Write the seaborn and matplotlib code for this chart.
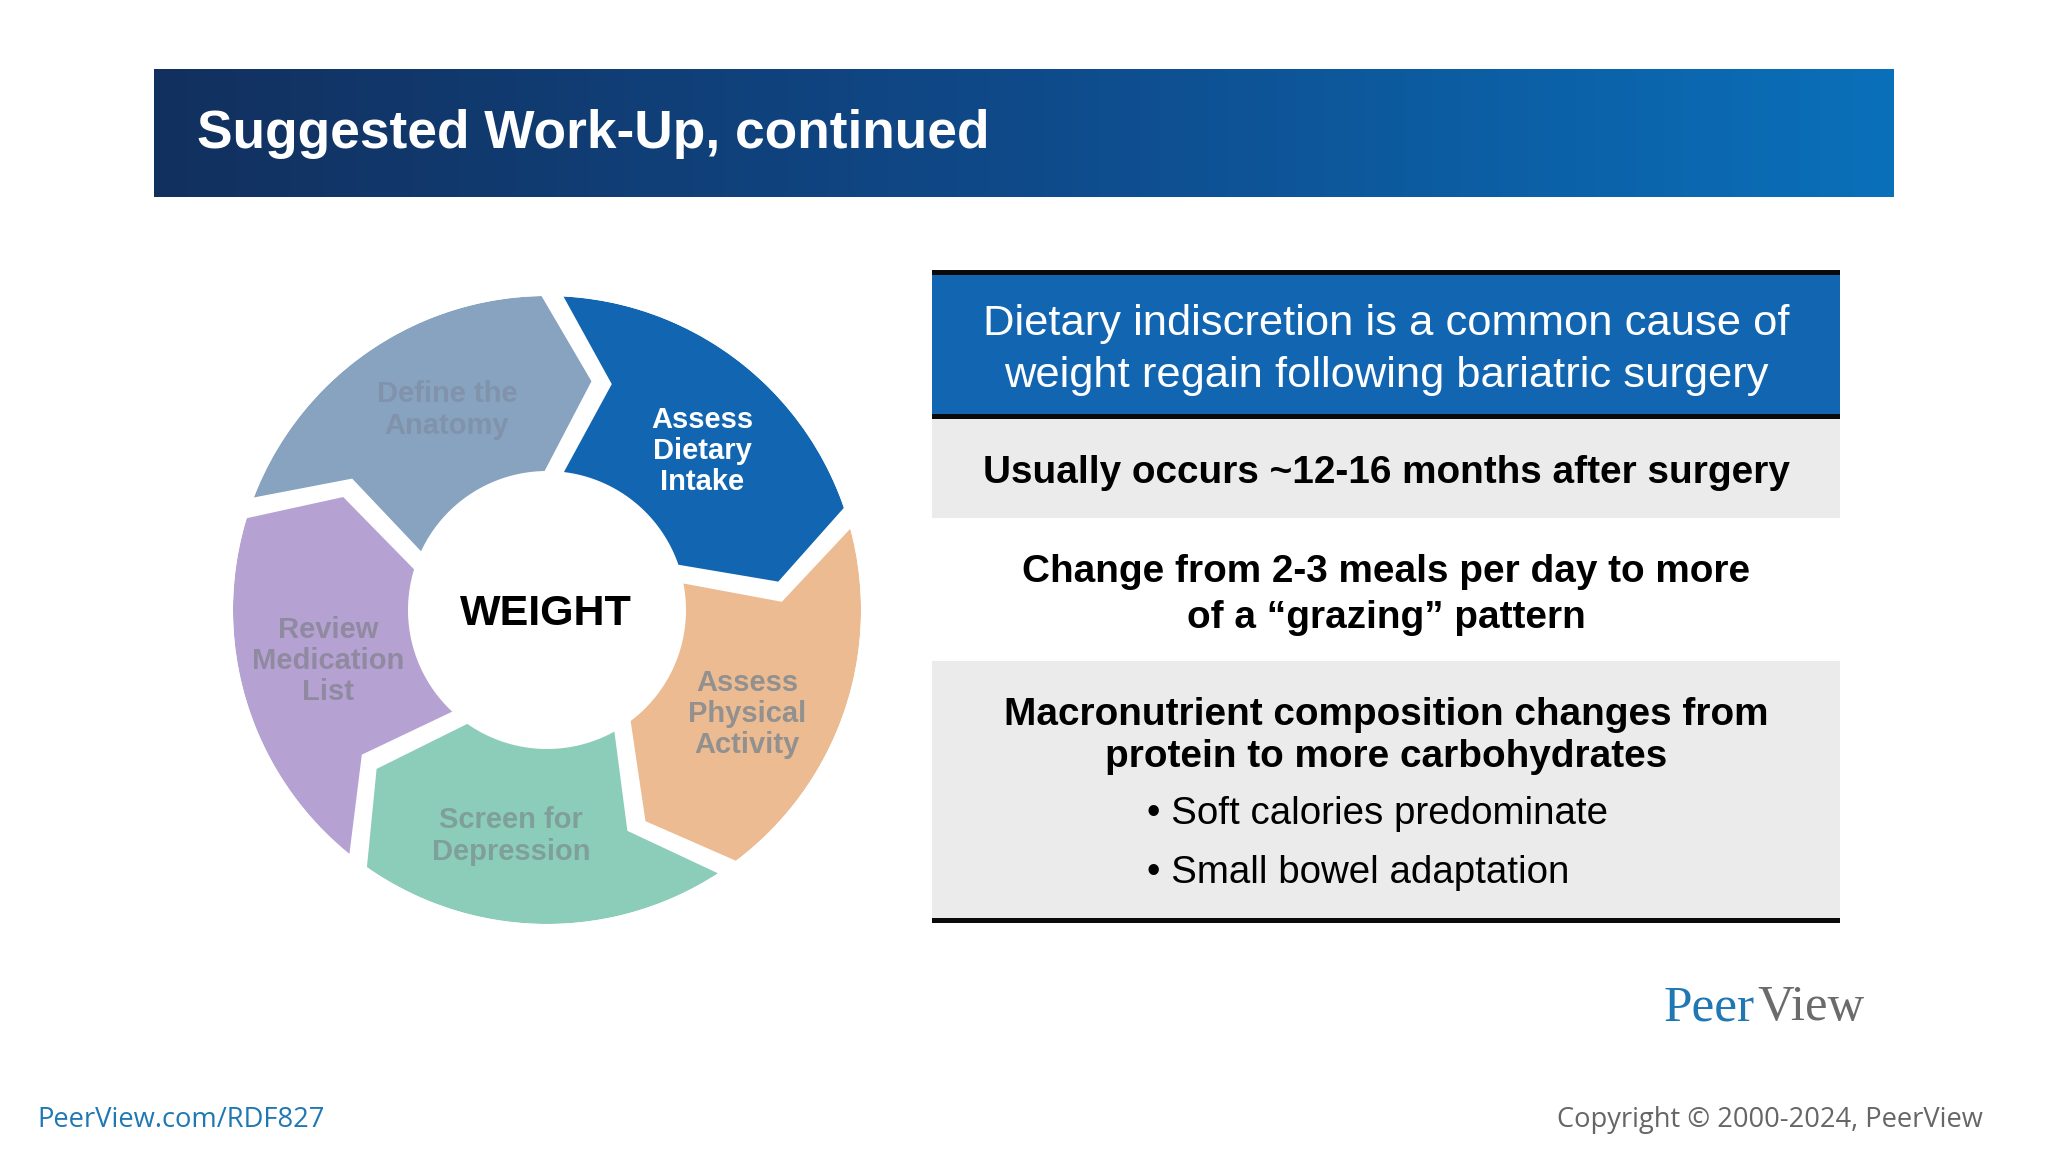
import numpy as np
import matplotlib
matplotlib.use("Agg")
import matplotlib.pyplot as plt
from matplotlib.patches import Rectangle
import seaborn as sns

# Slide text
title = "Suggested Work-Up, continued"
center_label = "WEIGHT"
wheel_labels = ["Assess\nDietary\nIntake", "Assess\nPhysical\nActivity", "Screen for\nDepression",
                "Review\nMedication\nList", "Define the\nAnatomy"]
panel_head = ["Dietary indiscretion is a common cause of", "weight regain following bariatric surgery"]
panel_bold = ["Usually occurs ~12-16 months after surgery",
              "Change from 2-3 meals per day to more", "of a \u201cgrazing\u201d pattern",
              "Macronutrient composition changes from", "protein to more carbohydrates"]
panel_bullets = ["\u2022 Soft calories predominate", "\u2022 Small bowel adaptation"]
footer_left = "PeerView.com/RDF827"
footer_right = "Copyright \u00a9 2000-2024, PeerView"

# Wheel: one segment outline in degrees clockwise from the top, radius in pixels
segment_starts = [0, 72, 144, 216, 288]
outer_arc = [3, 71]
inner_arc = [71, 7]
outer_radius = 314
inner_radius = 139
tip_point = [83, 233]
notch_point = [16, 235]

wheel_colors = ["#1265b0", "#ecbb92", "#8ccdb9", "#b5a2d3", "#87a3c0"]
wheel_text_colors = ["#ffffff", "#92918f", "#7fa09a", "#8f8aa0", "#8093ab"]
wheel_text_x = [702, 747, 511, 328, 447]
wheel_text_y = [451, 714, 836, 661, 410]

sns.set_theme(style="white")
plt.rcParams["font.family"] = ["Liberation Sans", "DejaVu Sans"]

W, H = 2048, 1152
fig = plt.figure(figsize=(W / 100, H / 100), dpi=100, facecolor="white")

#########################################################
# Wheel on a polar axes
#########################################################
cx, cy = 547, 610
wheel_ax = fig.add_axes([(cx - outer_radius) / W, 1 - (cy + outer_radius) / H,
                         2 * outer_radius / W, 2 * outer_radius / H],
                        projection="polar", zorder=1)
wheel_ax.set_theta_zero_location("N")
wheel_ax.set_theta_direction(-1)
wheel_ax.set_rlim(0, outer_radius)
wheel_ax.axis("off")

for start, color in zip(segment_starts, wheel_colors):
    out_a = np.linspace(outer_arc[0], outer_arc[1], 60)
    in_a = np.linspace(inner_arc[0], inner_arc[1], 40)
    angles = np.r_[out_a, tip_point[0], in_a, notch_point[0]] + start
    radii = np.r_[np.full(60, outer_radius), tip_point[1], np.full(40, inner_radius), notch_point[1]]
    wheel_ax.fill(np.deg2rad(angles), radii, color=color, lw=0)

#########################################################
# Everything else in pixel coordinates
#########################################################
ax = fig.add_axes([0, 0, 1, 1], zorder=2)
ax.patch.set_alpha(0)

# header bar
header_cmap = sns.blend_palette(["#12305e", "#0f4a8a", "#0a70ba"], as_cmap=True)
ax.imshow(np.linspace(0, 1, 256).reshape(1, -1), cmap=header_cmap, aspect="auto",
          extent=[154, 1894, 197, 69], zorder=1)
ax.text(197, 134, title, color="white", fontsize=38.3, fontweight="bold", va="center", ha="left", zorder=3)

# right panel
ax.add_patch(Rectangle((932, 270), 908, 149, color="#1265b0", lw=0))
ax.add_patch(Rectangle((932, 419), 908, 99, color="#ebebeb", lw=0))
ax.add_patch(Rectangle((932, 661), 908, 257, color="#ebebeb", lw=0))
for top, thick in [(270, 5), (414, 5), (918, 5)]:
    ax.add_patch(Rectangle((932, top), 908, thick, color="#0a0a0a", lw=0))

panel_x = 1386
for y, s in zip([324, 376], panel_head):
    ax.text(panel_x, y, s, color="white", fontsize=31.3, ha="center", va="center")
for y, s in zip([473, 572, 618, 715, 757], panel_bold):
    ax.text(panel_x, y, s, color="black", fontsize=27.9, fontweight="bold", ha="center", va="center")
for y, s in zip([814, 873], panel_bullets):
    ax.text(1147, y, s, color="black", fontsize=27.7, ha="left", va="center")

# wheel text
ax.text(546, 614, center_label, color="black", fontsize=31, fontweight="bold", ha="center", va="center")
for x, y, s, c in zip(wheel_text_x, wheel_text_y, wheel_labels, wheel_text_colors):
    ax.text(x, y, s, color=c, fontsize=21, fontweight="bold", ha="center", va="center", linespacing=1.15)

# logo and footer
ax.text(1664, 1008, "Peer", color="#1f78b4", fontsize=37, family="Liberation Serif", ha="left", va="center")
ax.text(1757, 1008, "View", color="#6b6b6b", fontsize=36.5, family="Liberation Serif", ha="left", va="center")
ax.text(37, 1120, footer_left, color="#1f78b4", fontsize=19.7, family="Open Sans", ha="left", va="center")
ax.text(1983, 1120, footer_right, color="#666666", fontsize=19.6, family="Open Sans", ha="right", va="center")

ax.set_xlim(0, W)
ax.set_ylim(H, 0)
ax.axis("off")

fig.savefig("out.png", dpi=100)
